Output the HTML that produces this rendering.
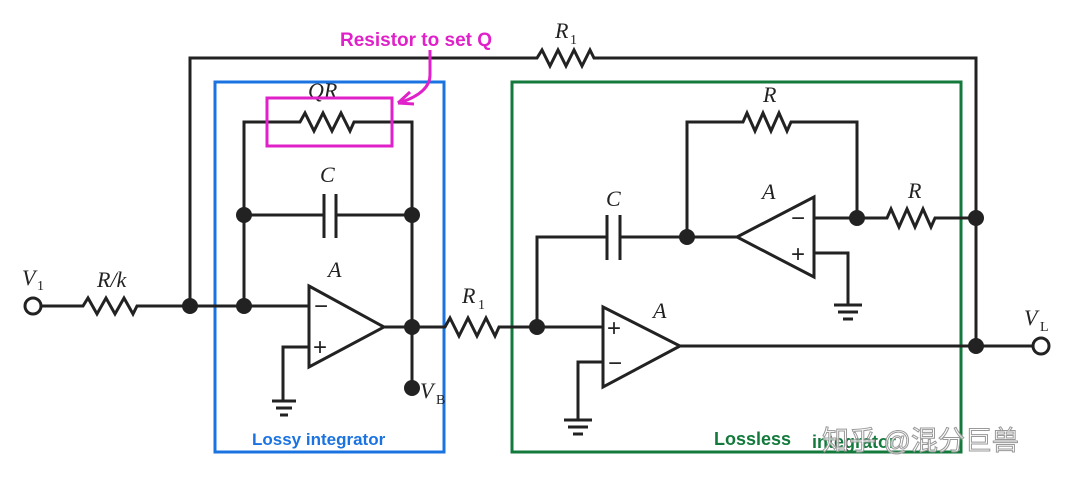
<!DOCTYPE html>
<html><head><meta charset="utf-8"><style>
html,body{margin:0;padding:0;background:#fff;}
svg{display:block}
.w{stroke:#222;stroke-width:3;fill:none;stroke-linejoin:miter}
.t{font-family:"Liberation Serif",serif;font-style:italic;fill:#222;font-size:22px}
.s{font-family:"Liberation Serif",serif;fill:#222;font-size:14px}
.p{font-family:"Liberation Sans",sans-serif;fill:#222;font-size:24px}
</style></head><body>
<svg width="1080" height="485" viewBox="0 0 1080 485" xmlns="http://www.w3.org/2000/svg">
<rect x="215" y="82" width="229" height="370" fill="none" stroke="#1a73e0" stroke-width="3"/>
<rect x="512" y="82" width="449" height="370" fill="none" stroke="#137a3c" stroke-width="3"/>

<path class="w" d="M190 306 V58 H537 l5 -8 l8 16 l8 -16 l8 16 l8 -16 l8 16 l8 -16 l4 8 H976 V346"/>
<text class="t" x="555" y="38">R</text><text class="s" x="570" y="44">1</text>

<circle cx="33" cy="306" r="8" fill="#fff" stroke="#222" stroke-width="3"/>
<text class="t" x="22" y="285">V</text><text class="s" x="37" y="290">1</text>
<path class="w" d="M41 306 H83 l5 -8 l9 16 l9 -16 l9 16 l9 -16 l9 16 l4 -8 H309"/>
<text class="t" x="97" y="287">R/k</text>

<path class="w" d="M244 306 V122 H300 l5 -9 l9 18 l9 -18 l9 18 l9 -18 l9 18 l4 -9 H412 V388"/>
<text class="t" x="308" y="98">QR</text>
<path class="w" d="M244 215 H324 M336 215 H412"/>
<path class="w" d="M324 194 V238 M336 194 V238"/>
<text class="t" x="320" y="182">C</text>

<path class="w" d="M309 286 L384 327 L309 367 Z"/>
<path class="w" d="M309 347 H283 V400"/>
<path class="w" d="M272 401 H296 M276 408 H292 M280 415 H288"/>
<text class="p" x="314" y="314">−</text>
<text class="p" x="313" y="355">+</text>
<text class="t" x="328" y="277">A</text>
<path class="w" d="M384 327 H445 l5 -9 l9 18 l9 -18 l9 18 l9 -18 l9 18 l4 -9 H603"/>
<text class="t" x="462" y="303">R</text><text class="s" x="478" y="309">1</text>
<text class="t" x="420" y="398">V</text><text class="s" x="436" y="404" fill="#666">B</text>

<path class="w" d="M537 327 V237 H607 M620 237 H737"/>
<path class="w" d="M607 215 V260 M620 215 V260"/>
<text class="t" x="606" y="206">C</text>
<path class="w" d="M687 237 V122 H743 l4 -9 l8 18 l8 -18 l8 18 l8 -18 l8 18 l4 -9 H857 V218"/>
<text class="t" x="763" y="102">R</text>
<path class="w" d="M737 237 L814 197 L814 277 Z"/>
<path class="w" d="M814 218 H887 l4 -9 l8 18 l8 -18 l8 18 l8 -18 l8 18 l4 -9 H976"/>
<text class="t" x="908" y="198">R</text>
<text class="p" x="791" y="226">−</text>
<text class="p" x="791" y="262">+</text>
<text class="t" x="762" y="199">A</text>
<path class="w" d="M814 253 H848 V305"/>
<path class="w" d="M834 305 H862 M838 312 H858 M843 319 H853"/>

<path class="w" d="M603 307 L680 346 L603 387 Z"/>
<path class="w" d="M680 346 H1033"/>
<path class="w" d="M603 362 H578 V420"/>
<path class="w" d="M564 420 H592 M568 427 H588 M573 434 H583"/>
<text class="p" x="607" y="336">+</text>
<text class="p" x="608" y="371">−</text>
<text class="t" x="653" y="318">A</text>
<circle cx="1041" cy="346" r="8" fill="#fff" stroke="#222" stroke-width="3"/>
<text class="t" x="1024" y="325">V</text><text class="s" x="1040" y="331">L</text>

<g fill="#222">
<circle cx="190" cy="306" r="8"/><circle cx="244" cy="306" r="8"/>
<circle cx="244" cy="215" r="8"/><circle cx="412" cy="215" r="8"/>
<circle cx="412" cy="327" r="8"/><circle cx="412" cy="388" r="8"/>
<circle cx="537" cy="327" r="8"/><circle cx="687" cy="237" r="8"/>
<circle cx="857" cy="218" r="8"/><circle cx="976" cy="218" r="8"/>
<circle cx="976" cy="346" r="8"/>
</g>

<rect x="267" y="98" width="125" height="48" fill="none" stroke="#e020c8" stroke-width="3"/>
<text x="340" y="46" font-family="Liberation Sans,sans-serif" font-weight="bold" font-size="19" fill="#e020c8">Resistor to set Q</text>
<path d="M430 50 V75 Q430 92 402 102" fill="none" stroke="#e020c8" stroke-width="3"/>
<path d="M398 103 L410 92 M398 103 L414 104" fill="none" stroke="#e020c8" stroke-width="3"/>
<text x="252" y="445" font-family="Liberation Sans,sans-serif" font-weight="bold" font-size="17" fill="#1a73e0">Lossy integrator</text>
<text x="714" y="445" font-family="Liberation Sans,sans-serif" font-weight="bold" font-size="18" fill="#137a3c">Lossless</text>
<text x="812" y="448" font-family="Liberation Sans,sans-serif" font-weight="bold" font-size="18" fill="#137a3c">integrator</text>
<text x="822" y="450" font-family="Liberation Sans,'Noto Sans CJK SC',sans-serif" font-size="27" fill="#fff" fill-opacity="0.75" stroke="#999" stroke-width="1">知乎 @混分巨兽</text>
</svg>
</body></html>
